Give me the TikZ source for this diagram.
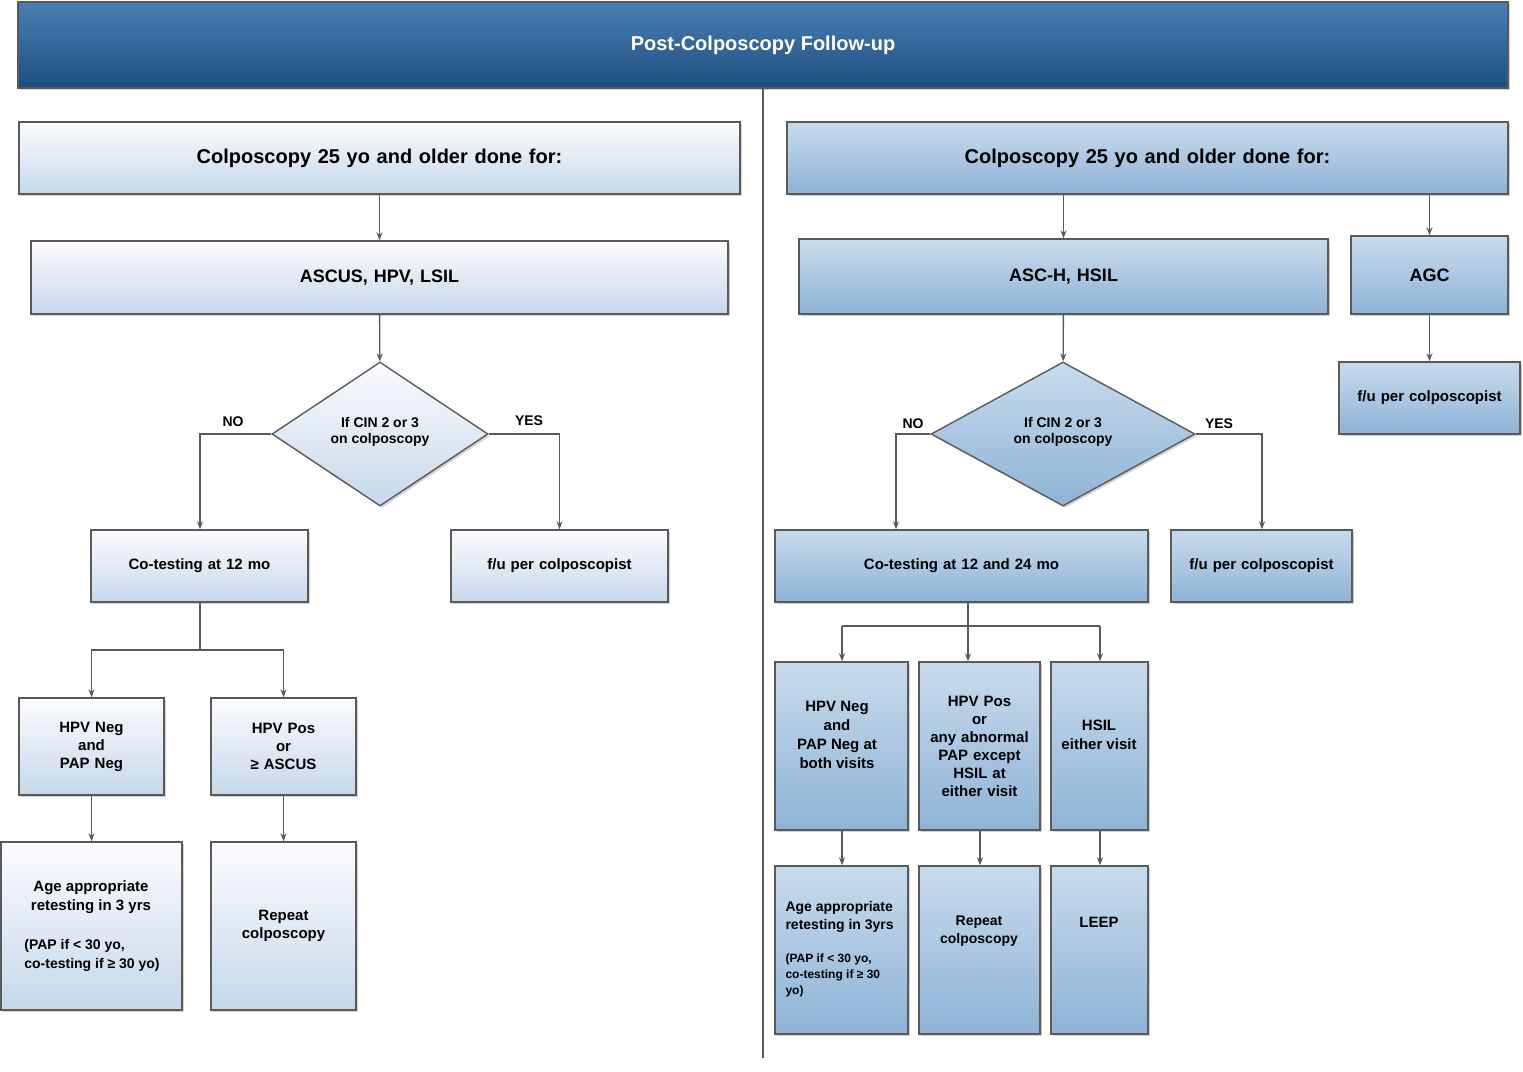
\documentclass[tikz,border=0pt]{standalone}
\usepackage{fontspec}
\setmainfont{Liberation Sans}
\usetikzlibrary{shapes.geometric,arrows.meta,shadows}
\definecolor{bord}{HTML}{5A5A5A}
\tikzset{
 base/.style={draw=bord,line width=1.4pt,align=center,inner sep=2pt,font=\fontsize{15}{18}\selectfont\bfseries,
   drop shadow={shadow xshift=2pt,shadow yshift=-2pt,fill=black!35}},
 lt/.style={base,top color=white!85!blue!8,bottom color={rgb,255:red,197;green,216;blue,234}},
 dk/.style={base,top color={rgb,255:red,200;green,219;blue,237},bottom color={rgb,255:red,142;green,179;blue,214}},
 arr/.style={draw=bord,line width=1.3pt,-{Stealth[length=8pt,width=6pt]}},
 ln/.style={draw=bord,line width=1.3pt},
 lab/.style={font=\fontsize{14}{16}\selectfont\bfseries}
}
\newcommand\bx[7]{\node[#6,minimum width={(#4-#2)*1pt},minimum height={(#5-#3)*1pt},text width={(#4-#2-10)*1pt}] (#1) at ({(#2+#4)/2},{(#3+#5)/2}) {#7};}
\begin{document}
\begin{tikzpicture}[x=1pt,y=-1pt]
\useasboundingbox (0,0) rectangle (1523,1071);
\node[draw=bord,line width=1.5pt,top color={rgb,255:red,74;green,127;blue,178},bottom color={rgb,255:red,30;green,78;blue,128},
  minimum width=1490pt,minimum height=86pt,font=\fontsize{20}{24}\selectfont\bfseries,text=white,
  drop shadow={shadow xshift=2pt,shadow yshift=-2pt,fill=black!35}] (title) at (763,45) {Post-Colposcopy Follow-up};
\coordinate (dvt) at (763,88); \coordinate (dvb) at (763,1058);
\draw[ln,line width=2pt] (dvt) -- (dvb);
% left
\bx{lh}{19}{122}{740}{194}{lt,font=\fontsize{20}{24}\selectfont\bfseries}{Colposcopy 25 yo and older done for:}
\bx{asc}{31}{241}{728}{314}{lt,font=\fontsize{18}{22}\selectfont\bfseries}{ASCUS, HPV, LSIL}
\node[lt,diamond,minimum width=216pt,minimum height=144pt,inner sep=0pt,aspect=1.5] (dl) at (380,434) {};
\node[lab,align=center] at (380,432) {If CIN 2 or 3\\on colposcopy};
\bx{ct}{91}{530}{308}{602}{lt}{Co-testing at 12 mo}
\bx{ful}{451}{530}{668}{602}{lt}{f/u per colposcopist}
\bx{hn}{19}{698}{164}{795}{lt}{HPV Neg\\and\\PAP Neg}
\bx{hp}{211}{698}{356}{795}{lt}{HPV Pos\\or\\≥ ASCUS}
\bx{aa}{1}{842}{182}{1010}{lt}{}
\node[font=\fontsize{15}{19}\selectfont\bfseries,align=center] at (91,897) {Age appropriate\\retesting in 3 yrs};
\node[font=\fontsize{14}{19}\selectfont\bfseries,align=left] at (92,955) {(PAP if < 30 yo,\\ co-testing if ≥ 30 yo)};
\bx{rc}{211}{842}{356}{1010}{lt}{Repeat\\colposcopy}
\draw[arr] (lh.south -| asc) -- (asc);
\draw[arr] (asc) -- (dl);
\draw[arr] (dl.west) -| (ct.north -| 200,0);
\draw[arr] (dl.east) -| (ful.north);
\node[lab] at (233,422) {NO};
\node[lab] at (529,421) {YES};
\coordinate (jl) at (200,650);
\draw[ln] (ct.south -| jl) -- (jl);
\draw[arr] (jl) -| (hn.north);
\draw[arr] (jl) -| (hp.north);
\draw[arr] (hn) -- (aa);
\draw[arr] (hp) -- (rc);
% right
\bx{rh}{787}{122}{1508}{194}{dk,font=\fontsize{20}{24}\selectfont\bfseries}{Colposcopy 25 yo and older done for:}
\bx{ah}{799}{239}{1328}{314}{dk,font=\fontsize{18}{22}\selectfont\bfseries}{ASC-H, HSIL}
\bx{agc}{1351}{236}{1508}{314}{dk,font=\fontsize{18}{22}\selectfont\bfseries}{AGC}
\bx{fua}{1339}{362}{1520}{434}{dk}{f/u per colposcopist}
\node[dk,diamond,minimum width=264pt,minimum height=144pt,inner sep=0pt,aspect=1.83] (dr) at (1063,434) {};
\node[lab,align=center] at (1063,432) {If CIN 2 or 3\\on colposcopy};
\bx{ct2}{775}{530}{1148}{602}{dk}{Co-testing at 12 and 24 mo}
\bx{fur}{1171}{530}{1352}{602}{dk}{f/u per colposcopist}
\bx{b1}{775}{662}{908}{830}{dk}{}
\node[font=\fontsize{15}{19}\selectfont\bfseries,align=center] at (837,735) {HPV Neg\\and\\PAP Neg at\\both visits};
\bx{b2}{919}{662}{1040}{830}{dk}{HPV Pos\\or\\any abnormal\\PAP except\\HSIL at\\either visit}
\bx{b3}{1051}{662}{1148}{830}{dk}{}
\node[font=\fontsize{15}{19}\selectfont\bfseries,align=center] at (1099,735) {HSIL\\either visit};
\bx{c1}{775}{866}{908}{1034}{dk}{}
\node[font=\fontsize{14}{18}\selectfont\bfseries,align=left,anchor=north west] at (782,898) {Age appropriate\\retesting in 3yrs};
\node[font=\fontsize{12}{16}\selectfont\bfseries,align=left,anchor=north west] at (782,950) {(PAP if < 30 yo,\\ co-testing if ≥ 30\\yo)};
\bx{c2}{919}{866}{1040}{1034}{dk}{}
\node[font=\fontsize{14}{18}\selectfont\bfseries,align=center] at (979,931) {Repeat\\colposcopy};
\bx{c3}{1051}{866}{1148}{1034}{dk}{}
\node[font=\fontsize{15}{18}\selectfont\bfseries] at (1099,922) {LEEP};
\draw[arr] (rh.south -| ah) -- (ah);
\draw[arr] (rh.south -| agc) -- (agc);
\draw[arr] (agc) -- (fua);
\draw[arr] (ah) -- (dr);
\draw[arr] (dr.west) -| (ct2.north -| 896,0);
\draw[arr] (dr.east) -| (fur.north -| 1262,0);
\node[lab] at (913,424) {NO};
\node[lab] at (1219,424) {YES};
\coordinate (jr) at (968,626);
\draw[ln] (ct2.south -| jr) -- (jr);
\draw[ln] (842,626) -- (1100,626);
\draw[arr] (jr) -- (b2.north -| jr);
\draw[arr] (842,626) -- (b1.north -| 842,0);
\draw[arr] (1100,626) -- (b3.north -| 1100,0);
\draw[arr] (b1.south -| 842,0) -- (c1.north -| 842,0);
\draw[arr] (b2.south -| 980,0) -- (c2.north -| 980,0);
\draw[arr] (b3.south -| 1100,0) -- (c3.north -| 1100,0);
\end{tikzpicture}
\end{document}
